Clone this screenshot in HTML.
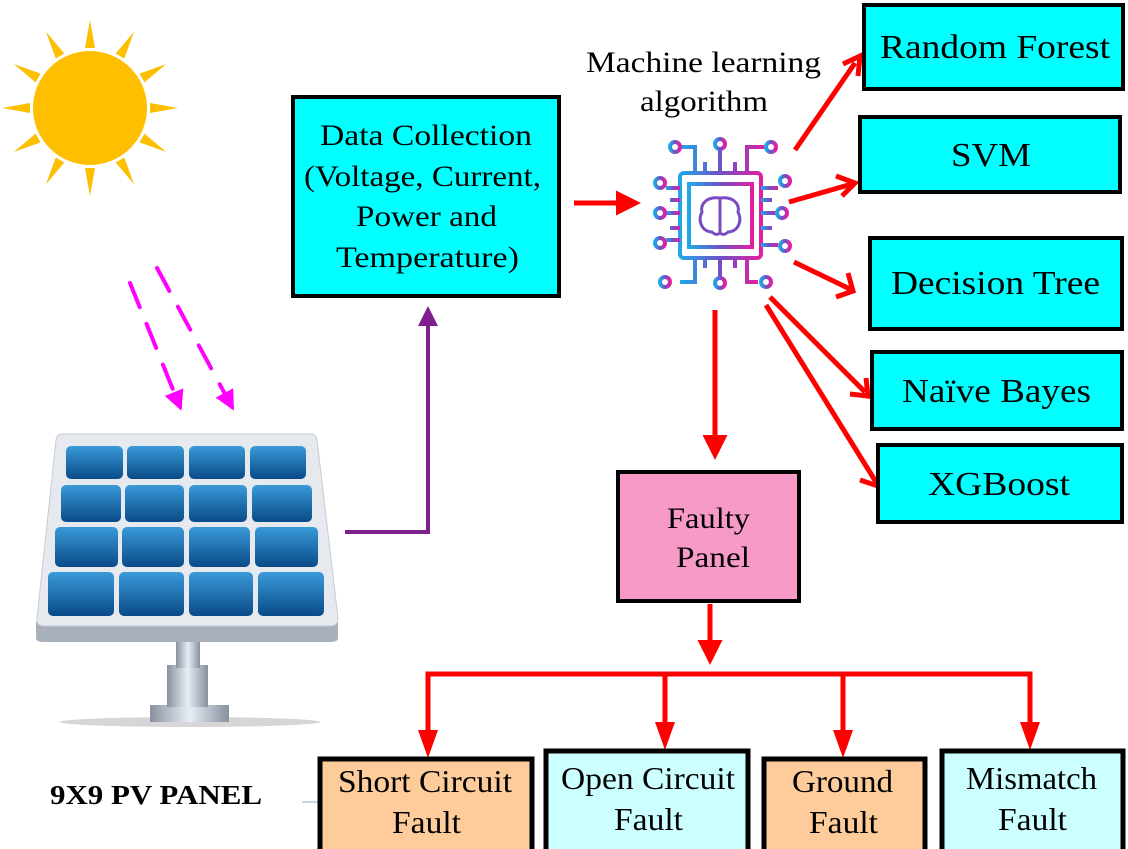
<!DOCTYPE html>
<html><head><meta charset="utf-8"><style>
html,body{margin:0;padding:0;background:#fff;}
svg{display:block;font-family:"Liberation Serif",serif;}
</style></head><body>
<svg width="1128" height="849" viewBox="0 0 1128 849" xmlns="http://www.w3.org/2000/svg">
<defs>
<marker id="ar" markerWidth="5" markerHeight="5" refX="4" refY="2.5" orient="auto" markerUnits="strokeWidth"><path d="M0,0 L5,2.5 L0,5 z" fill="#f00"/></marker>
<marker id="am" markerWidth="5" markerHeight="5" refX="4" refY="2.5" orient="auto" markerUnits="strokeWidth"><path d="M0,0 L5,2.5 L0,5 z" fill="#f0f"/></marker>
<marker id="ap" markerWidth="5" markerHeight="5" refX="4" refY="2.5" orient="auto" markerUnits="strokeWidth"><path d="M0,0 L5,2.5 L0,5 z" fill="#7f1f8f"/></marker>
<linearGradient id="cg" x1="0" x2="1"><stop offset="0" stop-color="#1fa8e6"/><stop offset="0.5" stop-color="#7050c8"/><stop offset="1" stop-color="#e020a0"/></linearGradient>
<linearGradient id="cell" x1="0" y1="0" x2="0" y2="1"><stop offset="0" stop-color="#3a9ad8"/><stop offset="1" stop-color="#0a4a88"/></linearGradient>
<linearGradient id="pole" x1="0" x2="1"><stop offset="0" stop-color="#8890a0"/><stop offset="0.5" stop-color="#e8eef4"/><stop offset="1" stop-color="#8890a0"/></linearGradient>
</defs>

<g fill="#fdbf00">
<circle cx="90" cy="108" r="57"/>
<g transform="translate(90,108)">
<path d="M-5,-60 L0,-88 L5,-60z"/><path d="M-5,-60 L0,-88 L5,-60z" transform="rotate(30)"/><path d="M-5,-60 L0,-88 L5,-60z" transform="rotate(60)"/><path d="M-5,-60 L0,-88 L5,-60z" transform="rotate(90)"/><path d="M-5,-60 L0,-88 L5,-60z" transform="rotate(120)"/><path d="M-5,-60 L0,-88 L5,-60z" transform="rotate(150)"/><path d="M-5,-60 L0,-88 L5,-60z" transform="rotate(180)"/><path d="M-5,-60 L0,-88 L5,-60z" transform="rotate(210)"/><path d="M-5,-60 L0,-88 L5,-60z" transform="rotate(240)"/><path d="M-5,-60 L0,-88 L5,-60z" transform="rotate(270)"/><path d="M-5,-60 L0,-88 L5,-60z" transform="rotate(300)"/><path d="M-5,-60 L0,-88 L5,-60z" transform="rotate(330)"/>
</g></g>

<line x1="130" y1="283" x2="180" y2="407" stroke="#f0f" stroke-width="4" stroke-dasharray="26,18" stroke-linecap="round" marker-end="url(#am)"/>
<line x1="157" y1="268" x2="232" y2="407" stroke="#f0f" stroke-width="4" stroke-dasharray="26,18" stroke-linecap="round" marker-end="url(#am)"/>

<ellipse cx="190" cy="722" rx="130" ry="5" fill="#bbb" opacity="0.6"/>
<rect x="150" y="705" width="79" height="17" fill="url(#pole)"/>
<rect x="167" y="665" width="41" height="42" fill="url(#pole)"/>
<rect x="176" y="638" width="24" height="30" fill="url(#pole)"/>
<path d="M36,622 L338,622 L338,638 Q338,642 330,642 L44,642 Q36,642 36,638z" fill="#a8b0bc"/>
<path d="M62,434 L311,434 Q316,434 317,440 L338,618 Q338,626 330,626 L44,626 Q36,626 37,618 L56,440 Q57,434 62,434z" fill="#e6e9ee" stroke="#c8ccd4"/>
<g fill="url(#cell)">
<rect x="66" y="446" width="57" height="33" rx="5"/><rect x="127" y="446" width="57" height="33" rx="5"/><rect x="189" y="446" width="56" height="33" rx="5"/><rect x="250" y="446" width="56" height="33" rx="5"/>
<rect x="61" y="485" width="60" height="37" rx="5"/><rect x="125" y="485" width="59" height="37" rx="5"/><rect x="189" y="485" width="58" height="37" rx="5"/><rect x="252" y="485" width="60" height="37" rx="5"/>
<rect x="55" y="527" width="63" height="40" rx="5"/><rect x="122" y="527" width="62" height="40" rx="5"/><rect x="189" y="527" width="61" height="40" rx="5"/><rect x="255" y="527" width="63" height="40" rx="5"/>
<rect x="48" y="572" width="66" height="44" rx="5"/><rect x="119" y="572" width="65" height="44" rx="5"/><rect x="189" y="572" width="64" height="44" rx="5"/><rect x="258" y="572" width="66" height="44" rx="5"/>
</g>
<text x="50" y="804" font-size="27" font-weight="bold" textLength="212" lengthAdjust="spacingAndGlyphs">9X9  PV PANEL</text>
<line x1="302" y1="802" x2="318" y2="802" stroke="#8aa8d8" stroke-width="1"/>

<polyline points="345,532 428,532 428,310" fill="none" stroke="#7f1f8f" stroke-width="4" marker-end="url(#ap)"/>

<rect x="293" y="97" width="266" height="199" fill="#00ffff" stroke="#000" stroke-width="4"/>
<g font-size="30" lengthAdjust="spacingAndGlyphs">
<text x="320" y="145" textLength="212" lengthAdjust="spacingAndGlyphs">Data Collection</text>
<text x="304" y="186" textLength="237" lengthAdjust="spacingAndGlyphs">(Voltage, Current,</text>
<text x="356" y="226" textLength="141" lengthAdjust="spacingAndGlyphs">Power and</text>
<text x="336" y="267" textLength="183" lengthAdjust="spacingAndGlyphs">Temperature)</text>
</g>

<g font-size="30">
<text x="586" y="72" textLength="235" lengthAdjust="spacingAndGlyphs">Machine learning</text>
<text x="640" y="111" textLength="128" lengthAdjust="spacingAndGlyphs">algorithm</text>
</g>

<g fill="none" stroke="url(#cg)" stroke-width="4">
<rect x="680" y="173" width="81" height="85" rx="4"/>
<rect x="689" y="184" width="63" height="63"/>
<path d="M695,173 V147 H680 M720,173 V149 M747,173 V147 H766 M705,173 V162 M735,173 V162"/>
<circle cx="675" cy="147" r="5"/><circle cx="720" cy="144" r="5"/><circle cx="771" cy="147" r="5"/>
<path d="M680,188 H666 M680,213 H666 M680,240 H666 M680,200 H670 M680,228 H670"/>
<circle cx="660" cy="183" r="5"/><circle cx="660" cy="213" r="5"/><circle cx="660" cy="243" r="5"/>
<path d="M761,188 H778 M761,213 H778 M761,245 H778 M761,200 H772 M761,228 H772"/>
<circle cx="785" cy="181" r="5"/><circle cx="782" cy="213" r="5"/><circle cx="785" cy="246" r="5"/>
<path d="M695,258 V282 H680 M720,258 V276 M747,258 V282 H758 M705,258 V268 M735,258 V268"/>
<circle cx="665" cy="282" r="5"/><circle cx="720" cy="283" r="5"/><circle cx="766" cy="282" r="5"/>
</g>
<g fill="none" stroke="#7a4cc4" stroke-width="3"><path d="M720,198 C705,196 700,206 702,212 C697,222 703,232 712,232 C716,236 720,234 720,232 Z"/><path d="M720,198 C735,196 740,206 738,212 C743,222 737,232 728,232 C724,236 720,234 720,232"/></g>

<g stroke="#f00" stroke-width="5" fill="none">
<line x1="574" y1="203" x2="636" y2="203" marker-end="url(#ar)"/>
<path d="M795,150 L855,63"/><path d="M843,64 L860,56 L858,76"/>
<path d="M789,202 L852,184"/><path d="M836,176 L855,183 L842,196"/>
<path d="M794,262 L852,290"/><path d="M836,297 L853,291 L848,273"/>
<path d="M770,297 L865,392"/><path d="M850,394 L868,396 L866,378"/>
<path d="M766,305 L876,482"/><path d="M860,480 L878,486 L879,466"/>
<line x1="715" y1="310" x2="715" y2="455" marker-end="url(#ar)"/>
<line x1="710" y1="604" x2="710" y2="660" marker-end="url(#ar)"/>
<polyline points="428,735 428,674 1030,674 1030,725"/>
<line x1="665" y1="674" x2="665" y2="728"/>
<line x1="843" y1="674" x2="843" y2="735"/>
</g>
<g fill="#f00">
<path d="M418,730 L438,730 L428,758z"/><path d="M655,722 L675,722 L665,750z"/><path d="M833,730 L853,730 L843,758z"/><path d="M1020,722 L1040,722 L1030,750z"/>
</g>

<g stroke="#000" stroke-width="4" fill="#00ffff">
<rect x="864" y="5" width="259" height="84"/>
<rect x="860" y="117" width="260" height="75"/>
<rect x="870" y="238" width="252" height="91"/>
<rect x="872" y="352" width="250" height="77"/>
<rect x="878" y="445" width="244" height="77"/>
</g>
<g font-size="34">
<text x="880" y="58" textLength="230" lengthAdjust="spacingAndGlyphs">Random Forest</text>
<text x="951" y="166" textLength="80" lengthAdjust="spacingAndGlyphs">SVM</text>
<text x="891" y="294" textLength="209" lengthAdjust="spacingAndGlyphs">Decision Tree</text>
<text x="902" y="402" textLength="189" lengthAdjust="spacingAndGlyphs">Naïve Bayes</text>
<text x="928" y="495" textLength="142" lengthAdjust="spacingAndGlyphs">XGBoost</text>
</g>

<rect x="618" y="472" width="181" height="129" fill="#f79ac8" stroke="#000" stroke-width="4"/>
<g font-size="30"><text x="667" y="528" textLength="83" lengthAdjust="spacingAndGlyphs">Faulty</text><text x="676" y="567" textLength="74" lengthAdjust="spacingAndGlyphs">Panel</text></g>

<g stroke="#000" stroke-width="5">
<rect x="320" y="759" width="212" height="94" fill="#fdcc9a"/>
<rect x="546" y="751" width="202" height="102" fill="#ccffff"/>
<rect x="764" y="759" width="161" height="94" fill="#fdcc9a"/>
<rect x="942" y="751" width="181" height="102" fill="#ccffff"/>
</g>
<g font-size="32">
<text x="338" y="792" textLength="174" lengthAdjust="spacingAndGlyphs">Short Circuit</text><text x="392" y="833" textLength="69" lengthAdjust="spacingAndGlyphs">Fault</text>
<text x="561" y="789" textLength="174" lengthAdjust="spacingAndGlyphs">Open Circuit</text><text x="614" y="830" textLength="69" lengthAdjust="spacingAndGlyphs">Fault</text>
<text x="792" y="792" textLength="101" lengthAdjust="spacingAndGlyphs">Ground</text><text x="809" y="833" textLength="69" lengthAdjust="spacingAndGlyphs">Fault</text>
<text x="966" y="789" textLength="131" lengthAdjust="spacingAndGlyphs">Mismatch</text><text x="998" y="830" textLength="69" lengthAdjust="spacingAndGlyphs">Fault</text>
</g>
</svg>
</body></html>
